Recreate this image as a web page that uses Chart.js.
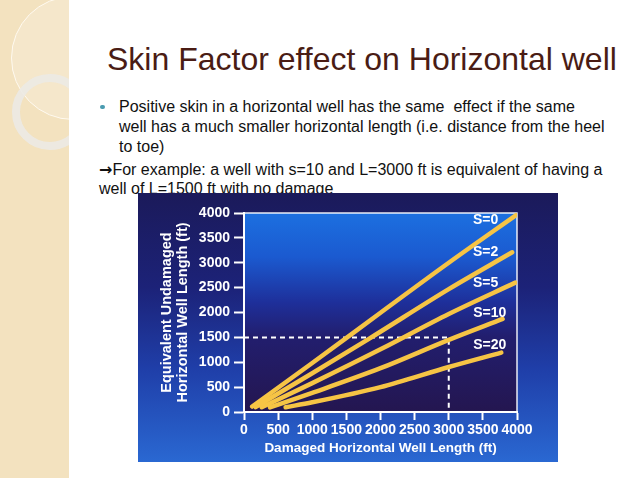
<!DOCTYPE html>
<html>
<head>
<meta charset="utf-8">
<script src="https://cdn.jsdelivr.net/npm/chart.js@4.4.1/dist/chart.umd.min.js"></script>
<style>
  body { margin: 0; width: 638px; height: 478px; background: #fff; position: relative; overflow: hidden;
         font-family: "Liberation Sans", Arial, sans-serif; }
  .strip { position: absolute; left: 0; top: 0; width: 69px; height: 478px; background: #f3e2bf; overflow: hidden; }
  .circle1 { position: absolute; left: 11px; top: -4px; width: 122px; height: 122px; border-radius: 50%;
             border: 1.5px solid #fffaf0; background: rgba(255, 255, 255, 0.2); }
  .ring { position: absolute; left: 12px; top: 74px; width: 60px; height: 60px; border-radius: 50%;
          border: 8px solid rgba(236, 234, 228, 0.9); }
  .title { position: absolute; left: 107px; top: 43px; font-size: 32px; line-height: 32px; color: #4a1c14; white-space: nowrap; }
  .bullet { position: absolute; left: 119px; top: 97px; font-size: 16px; line-height: 20px; color: #111; white-space: nowrap; }
  .dot { position: absolute; left: 100px; top: 104.5px; width: 4.5px; height: 4.5px; border-radius: 50%; background: #4a9bb0; }
  .arrow { position: absolute; left: 99px; top: 161px; font-size: 16px; line-height: 18.5px; color: #111; white-space: nowrap; }
  .arrow .ar { font-family: "DejaVu Sans", sans-serif; font-size: 16px; font-weight: bold; }
  .figure { position: absolute; left: 138px; top: 193px; width: 420px; height: 269px;
            background: linear-gradient(to bottom, #1b1a5a 0%, #1c2278 35%, #1f3ea8 65%, #2a68d2 100%); }
</style>
</head>
<body>
<div class="strip"><div class="circle1"></div><div class="ring"></div></div>
<div class="title">Skin Factor effect on Horizontal well</div>
<div class="dot"></div>
<div class="bullet">Positive skin in a horizontal well has the same &nbsp;effect if the same<br>well has a much smaller horizontal length (i.e. distance from the heel<br>to toe)</div>
<div class="arrow"><span class="ar">→</span>For example: a well with s=10 and L=3000 ft is equivalent of having a<br>well of L=1500 ft with no damage</div>
<div class="figure"><canvas id="skinChart" width="420" height="269"></canvas></div>
<script>
// damaged length (ft) -> equivalent undamaged length (ft)
const s0Damaged  = [120, 1000, 2000, 3000, 4000];
const s0Equiv    = [110, 985, 1995, 3000, 3970];
const s2Damaged  = [170, 1000, 1830, 3000, 3930];
const s2Equiv    = [100, 780, 1470, 2470, 3210];
const s5Damaged  = [260, 1000, 2000, 3000, 3975];
const s5Equiv    = [95, 580, 1260, 1970, 2600];
const s10Damaged = [380, 1000, 2000, 3000, 3790];
const s10Equiv   = [94, 385, 880, 1450, 1870];
const s20Damaged = [610, 1000, 2000, 3000, 3770];
const s20Equiv   = [95, 195, 500, 905, 1195];

const curveNames = ['S=0', 'S=2', 'S=5', 'S=10', 'S=20'];
const exampleDamaged = 3000;
const exampleEquiv = 1500;
const axisTicks = [0, 500, 1000, 1500, 2000, 2500, 3000, 3500, 4000];

const curves = [
  [s0Damaged, s0Equiv], [s2Damaged, s2Equiv], [s5Damaged, s5Equiv],
  [s10Damaged, s10Equiv], [s20Damaged, s20Equiv],
];

const FONT = '"Liberation Sans", Arial, sans-serif';

// where each S= label sits, in chart units
const labelAnchors = { 'S=0': [3540, 3850], 'S=2': [3540, 3215], 'S=5': [3540, 2590], 'S=10': [3600, 1990], 'S=20': [3600, 1337] };

const plotBackground = {
  id: 'plotBackground',
  beforeDraw(chart) {
    const { ctx, chartArea: a } = chart;
    const g = ctx.createLinearGradient(0, a.top, 0, a.bottom);
    g.addColorStop(0, '#1c70e0');
    g.addColorStop(0.22, '#1b5ad0');
    g.addColorStop(0.45, '#1e2f9a');
    g.addColorStop(0.62, '#221e6e');
    g.addColorStop(1, '#241650');
    ctx.save();
    ctx.fillStyle = g;
    ctx.fillRect(a.left, a.top, a.right - a.left, a.bottom - a.top);
    ctx.strokeStyle = 'rgba(255,255,255,0.9)';
    ctx.lineWidth = 1.5;
    ctx.beginPath();
    ctx.moveTo(a.left, a.top);
    ctx.lineTo(a.right, a.top);
    ctx.lineTo(a.right, a.bottom);
    ctx.stroke();
    ctx.restore();
  },
};

const curveLabels = {
  id: 'curveLabels',
  afterDatasetsDraw(chart) {
    const { ctx, scales: { x, y } } = chart;
    ctx.save();
    ctx.fillStyle = '#ffffff';
    ctx.font = 'bold 14px ' + FONT;
    ctx.textAlign = 'center';
    ctx.textBaseline = 'middle';
    curveNames.forEach(name => {
      const [lx, ly] = labelAnchors[name];
      ctx.fillText(name, x.getPixelForValue(lx), y.getPixelForValue(ly));
    });
    ctx.restore();
  },
};

const datasets = curves.map(([xs, ys], i) => ({
  label: curveNames[i],
  data: xs.map((v, j) => ({ x: v, y: ys[j] })),
  borderColor: '#f6c445',
  borderWidth: 4.5,
  borderCapStyle: 'round',
  pointRadius: 0,
  tension: 0.4,
  cubicInterpolationMode: 'monotone',
  fill: false,
}));

datasets.push({
  label: 'example',
  data: [{ x: 0, y: exampleEquiv }, { x: exampleDamaged, y: exampleEquiv }, { x: exampleDamaged, y: 0 }],
  borderColor: '#ffffff',
  borderWidth: 2,
  borderDash: [5, 4],
  pointRadius: 0,
  tension: 0,
  fill: false,
});

const tickFont = { family: FONT, size: 14, weight: 'bold' };
const titleFont = { family: FONT, size: 14.5, weight: 'bold', lineHeight: '16px' };

new Chart(document.getElementById('skinChart'), {
  type: 'line',
  data: { datasets },
  plugins: [plotBackground, curveLabels],
  options: {
    responsive: false,
    animation: false,
    layout: { padding: { left: 0, top: 20, right: 41, bottom: 0 } },
    plugins: { legend: { display: false }, tooltip: { enabled: false } },
    scales: {
      x: {
        type: 'linear', min: 0, max: 4000,
        afterBuildTicks: s => { s.ticks = axisTicks.map(v => ({ value: v })); },
        afterFit: s => { s.height = 50; },
        grid: { drawOnChartArea: false, drawTicks: true, tickLength: 8, tickColor: '#ffffff', tickWidth: 2 },
        border: { color: '#ffffff', width: 2 },
        ticks: { color: '#ffffff', font: tickFont, padding: 2, maxRotation: 0, autoSkip: false, callback: v => String(v) },
        title: { display: true, text: 'Damaged Horizontal Well Length (ft)', color: '#ffffff', font: { family: FONT, size: 13.5, weight: 'bold', lineHeight: '16px' }, padding: { top: 0, bottom: 6 } },
      },
      y: {
        type: 'linear', min: 0, max: 4000,
        afterBuildTicks: s => { s.ticks = axisTicks.map(v => ({ value: v })); },
        afterFit: s => { s.width = 106; },
        grid: { drawOnChartArea: false, drawTicks: true, tickLength: 10, tickColor: '#ffffff', tickWidth: 2 },
        border: { color: '#ffffff', width: 2 },
        ticks: { color: '#ffffff', font: tickFont, padding: 4, autoSkip: false, callback: v => String(v) },
        title: { display: true, text: ['Equivalent Undamaged', 'Horizontal Well Length (ft)'], color: '#ffffff', font: titleFont, padding: { top: 21, bottom: 0 } },
      },
    },
  },
});
</script>
</body>
</html>
